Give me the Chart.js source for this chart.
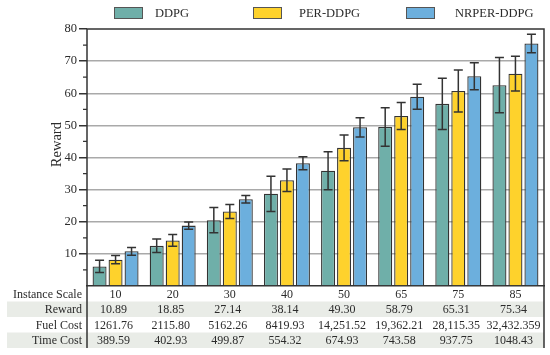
<!DOCTYPE html>
<html lang="en">
<head>
<meta charset="UTF-8" />
<title>Reward by instance scale</title>
<script src="https://cdn.jsdelivr.net/npm/chart.js"></script>
<style>
  html,body{margin:0;background:#fff;}
</style>
</head>
<body>
<canvas id="chart" width="550" height="355"></canvas>
<script>
// --------- values ---------
const scales   = ['10','20','30','40','50','65','75','85'];
const ddpg     = [6.1, 12.5, 20.5, 28.7, 35.9, 49.5, 56.7, 62.5];
const ddpgErr  = [1.9, 2.1, 3.9, 5.5, 5.9, 6.0, 8.0, 8.6];
const per      = [8.2, 14.2, 23.2, 32.9, 43.0, 52.9, 60.7, 66.1];
const perErr   = [1.3, 1.85, 2.15, 3.5, 4.0, 4.2, 6.5, 5.4];
const nrper    = [10.8, 18.8, 27.0, 38.2, 49.4, 58.9, 65.3, 75.5];
const nrperErr = [1.2, 1.1, 1.2, 2.0, 3.0, 3.9, 4.2, 2.9];

// table under the plot
const rewardRow = ['10.89','18.85','27.14','38.14','49.30','58.79','65.31','75.34'];
const fuelRow   = ['1261.76','2115.80','5162.26','8419.93','14,251.52','19,362.21','28,115.35','32,432.359'];
const timeRow   = ['389.59','402.93','499.87','554.32','674.93','743.58','937.75','1048.43'];
const rowLabels = ['Instance Scale','Reward','Fuel Cost','Time Cost'];

const FONT = '"Liberation Serif", "Times New Roman", serif';
const INK = '#2b2b2b';
const colors = ['#6fafa9','#fed22c','#6cafdd'];
const names = ['DDPG','PER-DDPG','NRPER-DDPG'];
const errs = [ddpgErr, perErr, nrperErr];
const ROW_H = 15.5;

// --------- plugins ---------
const legendPlugin = {
  id:'topLegend',
  afterDraw(chart){
    const ctx = chart.ctx;
    const boxX = [114, 253, 406], textX = [155, 299, 455];
    ctx.save();
    ctx.font = '12.5px ' + FONT;
    ctx.textBaseline = 'middle';
    names.forEach((n,i)=>{
      ctx.fillStyle = colors[i];
      ctx.fillRect(boxX[i], 7, 29, 12);
      ctx.strokeStyle = '#555'; ctx.lineWidth = 1;
      ctx.strokeRect(boxX[i]+.5, 7.5, 28, 11);
      ctx.fillStyle = INK;
      ctx.fillText(n, textX[i], 13.5);
    });
    ctx.restore();
  }
};

const errorBars = {
  id:'errorBars',
  afterDatasetsDraw(chart){
    const ctx = chart.ctx, y = chart.scales.y;
    ctx.save();
    ctx.strokeStyle = '#333'; ctx.lineWidth = 1.5;
    chart.data.datasets.forEach((ds,i)=>{
      chart.getDatasetMeta(i).data.forEach((bar,j)=>{
        const v = ds.data[j], e = errs[i][j];
        const hi = y.getPixelForValue(v+e), lo = y.getPixelForValue(v-e);
        ctx.beginPath();
        ctx.moveTo(bar.x, hi); ctx.lineTo(bar.x, lo);
        ctx.moveTo(bar.x-4.5, hi); ctx.lineTo(bar.x+4.5, hi);
        ctx.moveTo(bar.x-4.5, lo); ctx.lineTo(bar.x+4.5, lo);
        ctx.stroke();
      });
    });
    ctx.restore();
  }
};

const tablePlugin = {
  id:'table',
  beforeDraw(chart){
    const ctx = chart.ctx, a = chart.chartArea;
    ctx.save();
    ctx.fillStyle = '#e9ece7';
    [1,3].forEach(r=>ctx.fillRect(7, a.bottom + r*ROW_H, a.right-7, ROW_H));
    ctx.restore();
  },
  afterDraw(chart){
    const ctx = chart.ctx, a = chart.chartArea, x = chart.scales.x, y = chart.scales.y;
    const tableBottom = a.bottom + 4*ROW_H;
    ctx.save();
    // frame
    ctx.strokeStyle = '#333'; ctx.lineWidth = 1.5;
    ctx.beginPath();
    ctx.moveTo(a.left, tableBottom); ctx.lineTo(a.left, a.top);
    ctx.lineTo(a.right, a.top); ctx.lineTo(a.right, tableBottom);
    ctx.stroke();
    // minor ticks
    ctx.lineWidth = 1.2;
    ctx.beginPath();
    for(let v=5; v<80; v+=10){
      const py = y.getPixelForValue(v);
      ctx.moveTo(a.left-4, py); ctx.lineTo(a.left, py);
    }
    ctx.stroke();
    // table text
    ctx.font = '12px ' + FONT;
    ctx.fillStyle = INK;
    ctx.textBaseline = 'middle';
    ctx.textAlign = 'right';
    rowLabels.forEach((l,r)=>ctx.fillText(l, a.left-5, a.bottom + r*ROW_H + ROW_H/2 + 1));
    ctx.textAlign = 'center';
    [rewardRow, fuelRow, timeRow].forEach((row,r)=>{
      row.forEach((t,j)=>ctx.fillText(t, x.getPixelForValue(j)-2, a.bottom + (r+1)*ROW_H + ROW_H/2 + 1));
    });
    // y title
    ctx.font = '14.5px ' + FONT;
    ctx.translate(57, a.top + (a.bottom-a.top)*0.45);
    ctx.rotate(-Math.PI/2);
    ctx.fillText('Reward', 0, 0);
    ctx.restore();
  }
};

// --------- chart ---------
const datasets = [ddpg, per, nrper].map((d,i)=>({
  label: names[i], data: d, backgroundColor: colors[i],
  borderColor: '#333', borderWidth: 1.3,
  barPercentage: 0.875, categoryPercentage: 0.84
}));

new Chart(document.getElementById('chart'), {
  type:'bar',
  data:{labels: scales, datasets},
  options:{
    responsive:false, animation:false,
    layout:{padding:{top:29, right:6, left:0, bottom:0}},
    plugins:{legend:{display:false}, tooltip:{enabled:false}},
    scales:{
      x:{
        grid:{display:false, drawTicks:false},
        border:{display:true, color:'#333', width:1.5},
        ticks:{font:{family:FONT, size:12}, color:INK, padding:2},
        afterFit(s){ s.height = 69; }
      },
      y:{
        min:0, max:80,
        ticks:{stepSize:10, font:{family:FONT, size:12.5}, color:INK, padding:2,
          callback:v=> v===0 ? '' : v},
        grid:{
          color:c=> (c.tick.value===0 || c.tick.value===80) ? 'rgba(0,0,0,0)' : '#a9a9a9',
          lineWidth:1.5, tickLength:8,
          tickColor:c=> c.tick.value===0 ? 'rgba(0,0,0,0)' : '#333'
        },
        border:{display:false},
        afterFit(s){ s.width = 87; }
      }
    }
  },
  plugins:[tablePlugin, errorBars, legendPlugin]
});
</script>
</body>
</html>
